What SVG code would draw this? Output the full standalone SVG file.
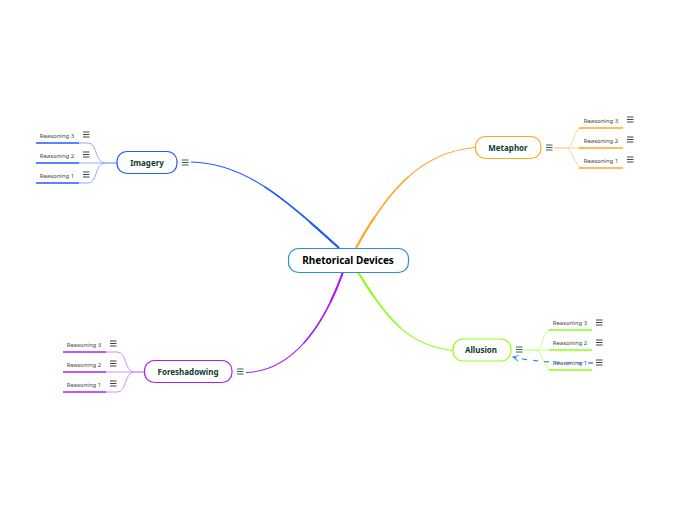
<svg xmlns="http://www.w3.org/2000/svg" width="697" height="520" viewBox="0 0 697 520">
<style>
text{font-family:"Noto Sans","Open Sans",sans-serif;text-anchor:middle}
.main{font-size:10px;font-weight:700;fill:#000}
.topic{font-size:8px;font-weight:700;fill:#0d3b2e}
.leaf{font-size:6px;fill:#444}
.box{fill:#fff;stroke-width:1.2}
.ic{stroke:#444;stroke-width:1;fill:none}
.ict{stroke:#2d6650;stroke-width:1;fill:none}
.thin{fill:none;stroke-width:1;opacity:.5}
.ul{fill:none;stroke-width:1.6}
.c{fill:none;stroke-width:1.100}
.c2{fill:none;stroke-width:1.500;stroke-dasharray:0 45 55}
.c3{fill:none;stroke-width:2;stroke-dasharray:0 78 22}
</style>
<defs>
<path id="icon" d="M0 0H6.500M0 2.500H6.500M0 5H6.500"/>
<marker id="arr" markerWidth="7" markerHeight="8" refX="6" refY="3.500" orient="auto" markerUnits="userSpaceOnUse"><path d="M0 0.500L6 3.500L0 6.500" fill="none" stroke="#3f8cf0" stroke-width="1"/></marker>
<path id="c-b" d="M191 162C245 163 285 199 339 248"/>
<path id="c-o" d="M475 147.500C420 152 387 192 356 248"/>
<path id="c-g" d="M453 350.500C410 346 387 320 358 272"/>
<path id="c-p" d="M246 372.500C290 371 322 331 343 272"/>
</defs>
<g id="connectors">
<g stroke="#1f5cff"><path d="M191 162C245 163 285 199 339 248" class="c"/><path d="M191 162C245 163 285 199 339 248" pathLength="100" class="c2"/><path d="M191 162C245 163 285 199 339 248" pathLength="100" class="c3"/></g>
<g stroke="#ffa726"><path d="M475 147.500C420 152 387 192 356 248" class="c"/><path d="M475 147.500C420 152 387 192 356 248" pathLength="100" class="c2"/><path d="M475 147.500C420 152 387 192 356 248" pathLength="100" class="c3"/></g>
<g stroke="#8cff1a"><path d="M453 350.500C410 346 387 320 358 272" class="c"/><path d="M453 350.500C410 346 387 320 358 272" pathLength="100" class="c2"/><path d="M453 350.500C410 346 387 320 358 272" pathLength="100" class="c3"/></g>
<g stroke="#a91fff"><path d="M246 372.500C290 371 322 331 343 272" class="c"/><path d="M246 372.500C290 371 322 331 343 272" pathLength="100" class="c2"/><path d="M246 372.500C290 371 322 331 343 272" pathLength="100" class="c3"/></g>
<g stroke="#1f5cff" class="thin"><path d="M79 143H88C98 143 94 162 105 163H117"/><path d="M79 163H117"/><path d="M79 183H88C98 183 94 164 105 163"/></g>
<g stroke="#ffa726" class="thin"><path d="M554 148H567C575 147 572 128 583 128"/><path d="M554 148H583"/><path d="M567 148C572 149 575 168 583 168"/></g>
<g stroke="#8cff1a" class="thin"><path d="M524 350H537C544 349 541 330 552 330"/><path d="M524 350H552"/><path d="M537 350C542 351 544 370 552 370"/></g>
<g stroke="#a91fff" class="thin"><path d="M106 352H117C127 352 124 371 134 372H144"/><path d="M106 372H144"/><path d="M106 392H117C127 392 124 373 134 372"/></g>
</g>
<g id="central"><rect x="288.500" y="248.500" width="120" height="24" rx="10" class="box" stroke="#2f8fd0"/><text x="348" y="264" class="main">Rhetorical Devices</text></g>
<g id="imagery"><rect x="117" y="151.500" width="60" height="22" rx="10" class="box" stroke="#1f5cff"/><text x="147" y="166" class="topic">Imagery</text><use href="#icon" x="182" y="160" class="ict"/></g>
<g id="metaphor"><rect x="475.500" y="136.500" width="65.500" height="22" rx="10" class="box" stroke="#ffa726"/><text x="508" y="151" class="topic">Metaphor</text><use href="#icon" x="546" y="145" class="ict"/></g>
<g id="allusion"><rect x="453" y="339" width="58" height="22" rx="10" class="box" stroke="#8cff1a"/><text x="481" y="353" class="topic">Allusion</text><use href="#icon" x="516" y="347" class="ict"/></g>
<g id="foreshadowing"><rect x="144.500" y="360.500" width="87.500" height="22" rx="10" class="box" stroke="#a91fff"/><text x="188" y="375" class="topic">Foreshadowing</text><use href="#icon" x="237" y="369" class="ict"/></g>
<g id="imagery-r3"><path d="M36 143H79" class="ul" stroke="#1f5cff"/><text x="57" y="138" class="leaf">Reasoning 3</text><use href="#icon" x="83" y="132" class="ic"/></g>
<g id="imagery-r2"><path d="M36 163H79" class="ul" stroke="#1f5cff"/><text x="57" y="158" class="leaf">Reasoning 2</text><use href="#icon" x="83" y="152" class="ic"/></g>
<g id="imagery-r1"><path d="M36 183H79" class="ul" stroke="#1f5cff"/><text x="57" y="178" class="leaf">Reasoning 1</text><use href="#icon" x="83" y="172" class="ic"/></g>
<g id="metaphor-r3"><path d="M579 128H623" class="ul" stroke="#ffa726"/><text x="601" y="123" class="leaf">Reasoning 3</text><use href="#icon" x="627" y="117" class="ic"/></g>
<g id="metaphor-r2"><path d="M579 148H623" class="ul" stroke="#ffa726"/><text x="601" y="143" class="leaf">Reasoning 2</text><use href="#icon" x="627" y="137" class="ic"/></g>
<g id="metaphor-r1"><path d="M579 168H623" class="ul" stroke="#ffa726"/><text x="601" y="163" class="leaf">Reasoning 1</text><use href="#icon" x="627" y="157" class="ic"/></g>
<g id="allusion-r3"><path d="M549 330H592" class="ul" stroke="#8cff1a"/><text x="570" y="325" class="leaf">Reasoning 3</text><use href="#icon" x="596" y="320" class="ic"/></g>
<g id="allusion-r2"><path d="M549 350H592" class="ul" stroke="#8cff1a"/><text x="570" y="345" class="leaf">Reasoning 2</text><use href="#icon" x="596" y="340" class="ic"/></g>
<g id="allusion-r1"><path d="M549 370H592" class="ul" stroke="#8cff1a"/><text x="570" y="365" class="leaf">Reasoning 1</text><use href="#icon" x="596" y="360" class="ic"/></g>
<g id="foreshadowing-r3"><path d="M63 352H106" class="ul" stroke="#a91fff"/><text x="84" y="347" class="leaf">Reasoning 3</text><use href="#icon" x="110" y="341" class="ic"/></g>
<g id="foreshadowing-r2"><path d="M63 372H106" class="ul" stroke="#a91fff"/><text x="84" y="367" class="leaf">Reasoning 2</text><use href="#icon" x="110" y="361" class="ic"/></g>
<g id="foreshadowing-r1"><path d="M63 392H106" class="ul" stroke="#a91fff"/><text x="84" y="387" class="leaf">Reasoning 1</text><use href="#icon" x="110" y="381" class="ic"/></g>
<g id="relationship"><path d="M593 363C570 363 540 363 513 357" fill="none" stroke="#3f8cf0" stroke-width="1.300" stroke-dasharray="5 6" marker-end="url(#arr)"/></g>
</svg>
